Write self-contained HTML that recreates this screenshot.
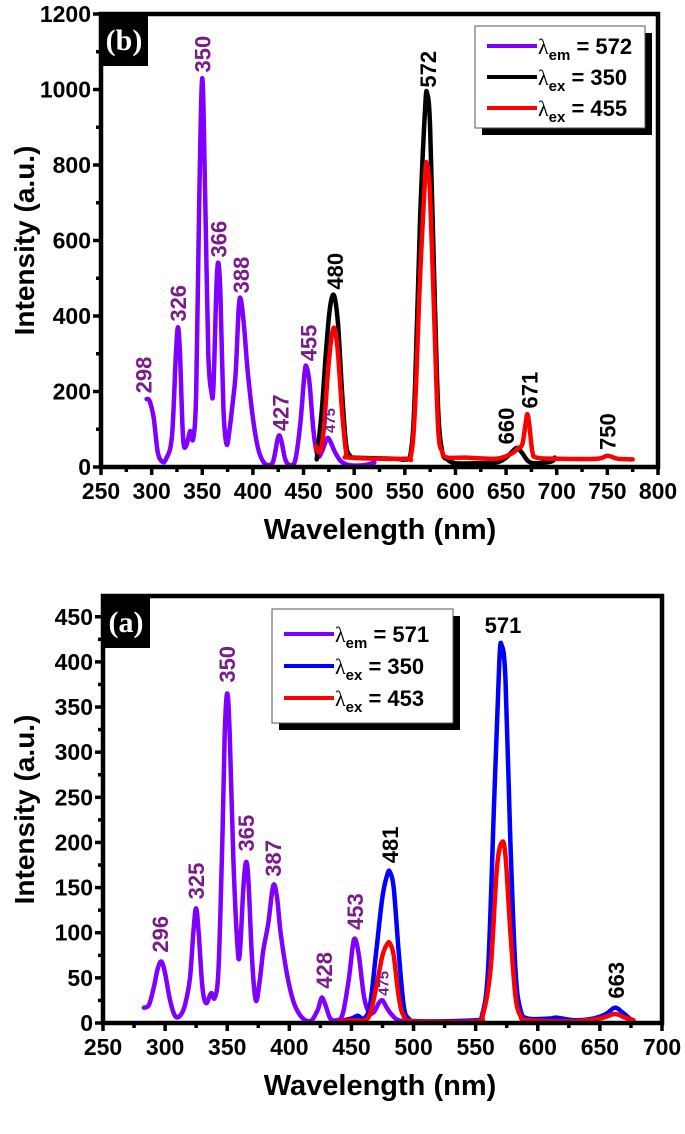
<!DOCTYPE html>
<html><head><meta charset="utf-8"><style>
html,body{margin:0;padding:0;background:#fff;}
svg{display:block;font-family:"Liberation Sans",Arial,sans-serif;}
</style></head><body>
<svg id="svg" width="685" height="1134" viewBox="0 0 685 1134"></svg>
<script>
// ---- data: top panel (b)
const bXTicks=[250,300,350,400,450,500,550,600,650,700,750,800];
const bYTicks=[0,200,400,600,800,1000,1200];
const bEmX=[295,298,302,306,310,314,320,324,326,328,331,334,338,341,344,347,350,353,356,359,361,364,366,368,371,374,377,380,383,386,388,391,395,400,405,410,415,420,425,428,432,437,442,447,451,453,456,460,464,468,473,476,481,487,495,510,520];
const bEmY=[180,175,130,40,15,20,80,300,370,300,80,55,95,75,200,700,1030,700,300,200,210,480,540,450,150,60,100,170,250,420,445,380,250,130,50,15,5,15,80,70,20,5,20,120,250,265,220,90,30,40,75,70,40,15,5,5,12];
const bEx1X=[463,468,472,476,480,484,488,492,496,500,540,550,556,560,565,570,572,575,579,583,587,592,600,620,640,650,660,665,672,680,695,698];
const bEx1Y=[20,150,300,420,455,380,200,60,30,25,22,20,40,200,650,950,990,900,500,150,40,20,10,10,12,25,50,40,15,10,15,25];
const bEx2X=[462,466,470,474,478,481,484,488,492,496,550,556,560,565,570,572,575,579,583,587,592,610,640,655,662,666,669,671,673,676,680,700,740,750,760,775];
const bEx2Y=[55,40,100,250,350,365,300,150,40,25,22,30,150,500,770,800,720,400,100,40,25,25,22,35,50,60,110,140,110,40,25,22,22,30,22,20];
const bLabels=["298","326","350","366","388","427","455","480","572","660","671","750"];
const bLabelX=[292,326,350,366,388,427,455,481,573,650,673,750];
const bLabelV=[195,385,1045,555,460,95,280,470,1005,60,155,45];
// ---- data: bottom panel (a)
const aXTicks=[250,300,350,400,450,500,550,600,650,700];
const aYTicks=[0,50,100,150,200,250,300,350,400,450];
const aEmX=[283,287,291,294,297,300,304,308,312,316,320,323,325,327,330,333,337,340,343,346,348,350,352,355,358,360,363,365,367,370,373,376,379,383,387,390,393,398,403,408,413,418,423,426,429,433,438,443,448,451,453,456,460,464,468,472,475,478,482,488,500];
const aEmY=[17,20,40,60,68,55,25,8,8,20,50,105,127,100,40,22,33,28,60,200,320,365,320,180,90,75,150,178,160,70,25,45,80,110,152,140,100,55,25,10,3,3,15,28,20,5,3,10,50,85,93,75,30,12,12,22,25,18,10,3,2];
const aEx1X=[440,450,455,460,465,470,475,479,481,484,488,492,496,505,550,555,560,565,569,571,574,578,582,586,592,610,615,630,645,655,662,668,674,677];
const aEx1Y=[2,5,8,5,20,80,140,165,167,150,80,20,5,2,3,8,60,250,400,418,380,200,60,15,5,5,6,3,5,10,17,12,5,3];
const aEx2X=[440,450,460,465,470,475,479,481,484,488,492,500,550,556,562,567,571,574,578,582,586,592,630,650,662,670,677];
const aEx2Y=[2,3,3,10,40,75,88,88,75,30,8,2,2,10,60,170,200,185,100,30,8,3,2,5,10,6,3];
const aLabels=["296","325","350","365","387","428","453","481","663"];
const aLabelX=[296,325,350,365,387,428,453,481,663];
const aLabelV=[78,137,377,190,162,38,103,177,27];

const NS="http://www.w3.org/2000/svg";
const svg=document.getElementById('svg');
function mk(tag,attrs,parent,text){const e=document.createElementNS(NS,tag);for(const k in attrs)e.setAttribute(k,attrs[k]);if(text!==undefined)e.textContent=text;(parent||svg).appendChild(e);return e;}
function pathFrom(xs,ys,sx,sy){
  const p=xs.map((x,i)=>[sx(x),sy(ys[i])]);
  let d="M"+p[0][0].toFixed(1)+","+p[0][1].toFixed(1);
  for(let i=0;i<p.length-1;i++){
    const p0=p[Math.max(0,i-1)],p1=p[i],p2=p[i+1],p3=p[Math.min(p.length-1,i+2)];
    const c1=[p1[0]+(p2[0]-p0[0])/6,p1[1]+(p2[1]-p0[1])/6];
    const c2=[p2[0]-(p3[0]-p1[0])/6,p2[1]-(p3[1]-p1[1])/6];
    d+="C"+c1[0].toFixed(1)+","+c1[1].toFixed(1)+" "+c2[0].toFixed(1)+","+c2[1].toFixed(1)+" "+p2[0].toFixed(1)+","+p2[1].toFixed(1);
  }
  return d;
}
function panel(o){
  const g=mk('g',{});
  
  
  const sx=v=>o.x0+(v-o.xmin)*(o.x1-o.x0)/(o.xmax-o.xmin);
  const sy=v=>o.y0-(v-o.ymin)*(o.y0-o.y1)/(o.ymax-o.ymin);
  o.xt.forEach((t,i)=>{
    const x=sx(t);
    const tk=mk('line',{x1:x,x2:x,y1:o.y0,y2:o.y0+8,stroke:'#000','stroke-width':3.5},g);
    
    
    if(i<o.xt.length-1){const xm=sx(t+(o.xt[1]-o.xt[0])/2);const m=mk('line',{x1:xm,x2:xm,y1:o.y0,y2:o.y0+5,stroke:'#000','stroke-width':3.5},g);
      
      }
    const lb=mk('text',{x:x,y:o.y0+32,'text-anchor':'middle','font-size':23,'font-weight':'bold'},g,String(t));
    
    
  });
  o.yt.forEach((t,i)=>{
    const y=sy(t);
    const tk=mk('line',{x1:o.x0-8,x2:o.x0,y1:y,y2:y,stroke:'#000','stroke-width':3.5},g);
    
    
    if(i<o.yt.length-1){const ym=sy(t+(o.yt[1]-o.yt[0])/2);const m=mk('line',{x1:o.x0-5,x2:o.x0,y1:ym,y2:ym,stroke:'#000','stroke-width':3.5},g);
      
      }
    const lb=mk('text',{x:o.x0-10,y:y+8,'text-anchor':'end','font-size':23,'font-weight':'bold'},g,String(t));
    
    
  });
  o.series.forEach(s=>{
    const p=mk('path',{d:pathFrom(s.x,s.y,sx,sy),fill:'none',stroke:s.c,'stroke-width':4.5,'stroke-linejoin':'round','stroke-linecap':'round'},g);
    
    
  });
  o.labels.forEach((l,i)=>{
    const x=sx(o.lx[i]),y=sy(o.lv[i]);
    const col=o.lcol[i];
    let t;
    if(o.horiz&&o.horiz[i]) t=mk('text',{x:x,y:y,'text-anchor':'middle','font-size':22,'font-weight':'bold',fill:col},g,l);
    else t=mk('text',{transform:`translate(${x+8},${y}) rotate(-90)`,'font-size':22,'font-weight':'bold',fill:col},g,l);
    
    
  });
  const s475=mk('text',{transform:`translate(${sx(o.s475[0])+6},${sy(o.s475[1])}) rotate(-90)`,'font-size':15,'font-weight':'bold',fill:'#7b1b8a'},g,'475');
  
  
  const fr=mk('rect',{x:o.x0,y:o.y1,width:o.x1-o.x0,height:o.y0-o.y1,fill:'none',stroke:'#000','stroke-width':4.5},g);
  
  
  const tb=mk('rect',{x:o.x0,y:o.y1,width:47,height:52,fill:'#000'},g);
  
  
  const tt=mk('text',{x:o.x0+23,y:o.y1+36,'text-anchor':'middle','font-size':30,'font-weight':'bold',fill:'#fff','font-family':'"Liberation Serif",serif'},g,o.tag);
  
  
  const yt=mk('text',{transform:`translate(34,${(o.y0+o.y1)/2}) rotate(-90)`,'text-anchor':'middle','font-size':28,'font-weight':'bold'},g,'Intensity (a.u.)');
  
  
  const xt=mk('text',{x:o.xtc,y:o.y0+72,'text-anchor':'middle','font-size':29,'font-weight':'bold'},g,'Wavelength (nm)');
  
  
  const L=o.leg;
  const lg=mk('g',{},g);
  
  
  mk('rect',{x:L.x+7,y:L.y+7,width:L.w,height:L.h,fill:'#000'},lg);
  mk('rect',{x:L.x,y:L.y,width:L.w,height:L.h,fill:'#fff',stroke:'#555','stroke-width':1},lg);
  L.items.forEach((it,i)=>{
    const yy=L.y+L.top+i*L.gap;
    const e=mk('g',{},lg);
    
    
    mk('line',{x1:L.x+12,x2:L.x+62,y1:yy,y2:yy,stroke:it.c,'stroke-width':4},e);
    const t=mk('text',{x:L.x+63,y:yy+8,'font-size':22,'font-weight':'bold'},e);
    mk('tspan',{'font-family':'"Liberation Serif",serif','font-weight':'normal'},t,'λ');
    mk('tspan',{'font-size':15,dy:6},t,it.sub);
    mk('tspan',{dy:-6},t,' = '+it.v);
  });
}
panel({name:'panel-b',tag:'(b)',x0:101,x1:658,y0:467,y1:14,xmin:250,xmax:800,ymin:0,ymax:1200,xt:bXTicks,yt:bYTicks,xtc:380,
  series:[{x:bEmX,y:bEmY,c:'#7f00ff',n:'series-em-572'},{x:bEx1X,y:bEx1Y,c:'#000',n:'series-ex-350'},{x:bEx2X,y:bEx2Y,c:'#ff0000',n:'series-ex-455'}],
  labels:bLabels,lx:bLabelX,lv:bLabelV,lcol:['#7b1b8a','#7b1b8a','#7b1b8a','#7b1b8a','#7b1b8a','#7b1b8a','#7b1b8a','#000','#000','#000','#000','#000'],
  s475:[475,90],
  leg:{x:475,y:26,w:170,h:102,top:20,gap:31,items:[{c:'#7f00ff',sub:'em',v:'572'},{c:'#000',sub:'ex',v:'350'},{c:'#ff0000',sub:'ex',v:'455'}]}});
panel({name:'panel-a',tag:'(a)',x0:103,x1:662,y0:1023,y1:596,xmin:250,xmax:700,ymin:0,ymax:473,xt:aXTicks,yt:aYTicks,xtc:380,
  series:[{x:aEmX,y:aEmY,c:'#7f00ff',n:'series-em-571'},{x:aEx1X,y:aEx1Y,c:'#0000ff',n:'series-ex-350'},{x:aEx2X,y:aEx2Y,c:'#ff0000',n:'series-ex-453'}],
  labels:aLabels.concat(['571']),lx:aLabelX.concat([572]),lv:aLabelV.concat([432]),
  lcol:['#7b1b8a','#7b1b8a','#7b1b8a','#7b1b8a','#7b1b8a','#7b1b8a','#7b1b8a','#000','#000','#000'],
  horiz:[0,0,0,0,0,0,0,0,0,1],
  s475:[475,30],
  leg:{x:272,y:609,w:181,h:114,top:25,gap:32,items:[{c:'#7f00ff',sub:'em',v:'571'},{c:'#0000ff',sub:'ex',v:'350'},{c:'#ff0000',sub:'ex',v:'453'}]}});
</script>
</body></html>
